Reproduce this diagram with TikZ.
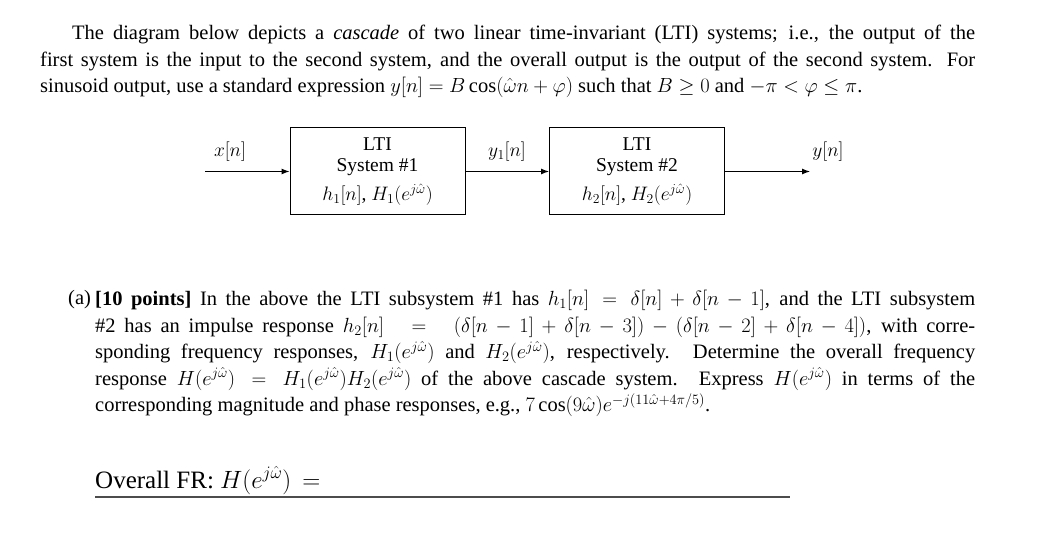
\RequirePackage{fix-cm}
\documentclass[tikz,border=0pt]{standalone}
\usepackage{amsmath,amssymb}
\usepackage{fontspec}
\setmainfont{Liberation Serif}
\usetikzlibrary{arrows.meta}
\tikzset{
  blk/.style={draw,line width=1pt,minimum width=175pt,minimum height=87pt,align=center,font=\fontsize{19.5}{21}\selectfont},
  sig/.style={line width=1pt,-{Latex[length=8pt,width=6pt]}},
  lbl/.style={font=\fontsize{19.5}{21}\selectfont},
  para/.style={anchor=north west,align=justify,inner sep=0pt,font=\fontsize{20.5}{26.5}\selectfont}
}
\begin{document}
\begin{tikzpicture}[x=1pt,y=-1pt]
\useasboundingbox (0,0) rectangle (1050,540);
\node[para,text width=935pt] (intro) at (40,25) {\hspace*{32pt}The diagram below depicts a \emph{cascade} of two linear time-invariant (LTI) systems; i.e., the output of the\linebreak first system is the input to the second system, and the overall output is the output of the second system. For\linebreak sinusoid output, use a standard expression $y[n]=B\cos(\hat\omega n+\varphi)$ such that $B\ge0$ and $-\pi<\varphi\le\pi$.};
\coordinate (in) at (205,171.5);
\node[blk] (s1) at (377.5,171.5) {LTI\\System \#1\\[8pt]$h_1[n]$, $H_1(e^{j\hat\omega})$};
\node[blk] (s2) at (637,171.5) {LTI\\System \#2\\[8pt]$h_2[n]$, $H_2(e^{j\hat\omega})$};
\coordinate (out) at (810,171.5);
\draw[sig] (in) -- (s1);
\draw[sig] (s1) -- (s2);
\draw[sig] (s2) -- (out);
\node[lbl] (xl) at (230,152) {$x[n]$};
\node[lbl] (y1l) at (507,152) {$y_1[n]$};
\node[lbl] (yl) at (828,152) {$y[n]$};
\node[para,anchor=north west] (alab) at (68,290) {(a)};
\node[para,text width=880pt] (pa) at (95,290) {\textbf{[10 points]} In the above the LTI subsystem \#1 has $h_1[n]=\delta[n]+\delta[n-1]$, and the LTI subsystem\linebreak \#2 has an impulse response $h_2[n]\;=\;(\delta[n-1]+\delta[n-3])-(\delta[n-2]+\delta[n-4])$, with corre-\linebreak sponding frequency responses, $H_1(e^{j\hat\omega})$ and $H_2(e^{j\hat\omega})$, respectively. Determine the overall frequency\linebreak response $H(e^{j\hat\omega})=H_1(e^{j\hat\omega})H_2(e^{j\hat\omega})$ of the above cascade system. Express $H(e^{j\hat\omega})$ in terms of the\linebreak corresponding magnitude and phase responses, e.g., $7\cos(9\hat\omega)e^{-j(11\hat\omega+4\pi/5)}$.};
\node[anchor=base west,inner sep=0pt,font=\fontsize{25}{28}\selectfont] (fr) at (95,488) {Overall FR: $H(e^{j\hat\omega})\,=$};
\coordinate (u1) at (95,497);
\coordinate (u2) at (790,497);
\draw[line width=1.5pt,black!70] (u1) -- (u2);
\end{tikzpicture}
\end{document}
